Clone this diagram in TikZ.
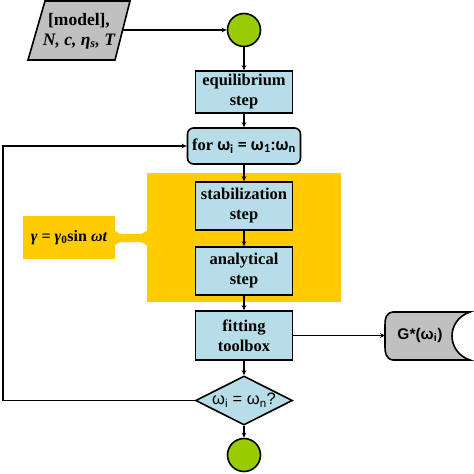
\documentclass[tikz,border=0pt]{standalone}
\usepackage{fontspec}
\setmainfont{Liberation Serif}
\newfontfamily\arialf{Liberation Sans}
\newfontfamily\calf{Carlito}
\usetikzlibrary{shapes.geometric,arrows.meta}
\definecolor{boxblue}{HTML}{B7DEE8}
\definecolor{flowgreen}{HTML}{99CC00}
\definecolor{flowyellow}{HTML}{FFCC00}
\definecolor{flowgrey}{HTML}{C0C0C0}
\tikzset{
  procbox/.style={draw=black, line width=1.6pt, fill=boxblue, minimum width=97pt, minimum height=48pt, inner sep=0pt, align=center, font=\fontsize{16.5}{20}\selectfont\bfseries},
  termcirc/.style={circle, draw=black, line width=1.6pt, fill=flowgreen, minimum size=33pt, inner sep=0pt},
  flowarrow/.style={line width=1.2pt, -{Stealth[length=5pt,width=4.5pt]}},
}
\begin{document}
\begin{tikzpicture}[x=1pt,y=-1pt]
\useasboundingbox (0,0) rectangle (474,474);
% yellow region
\fill[flowyellow] (147,173) rectangle (341,302);
% gamma callout
\node[fill=flowyellow, minimum width=92pt, minimum height=43pt, inner sep=0pt, font=\fontsize{16}{19}\selectfont\bfseries] (gam) at (69,237.5) {\itshape γ\upshape{} = \itshape γ\textsubscript{\upshape 0}\upshape sin \itshape ωt};
\fill[flowyellow, rounded corners=3pt] (113,229) -- (119,234) -- (142,234) -- (149,229) -- (149,247) -- (142,242) -- (119,242) -- (113,247) -- cycle;
% input parallelogram
\draw[line width=1.6pt, fill=flowgrey] (45,1) -- (130,1) -- (115,60) -- (28,60) -- cycle;
\node[align=center, font=\fontsize{17.5}{20}\selectfont\bfseries] (para) at (79,31) {[model],\\\itshape N, c, η\textsubscript{s}, T};
\coordinate (paraR) at (122.5,30);
% start circle
\node[termcirc] (c1) at (244,30) {};
% boxes
\node[procbox, minimum height=42pt] (equil) at (244,92) {equilibrium\\step};
\node[procbox, rounded corners=6pt, minimum width=113pt, minimum height=36pt] (forb) at (244,146) {for {\calf\fontsize{18}{20}\selectfont ω\textsubscript{i}~= ω\textsubscript{1}:ω\textsubscript{n}}};
\node[procbox] (stab) at (244,206) {stabilization\\step};
\node[procbox] (anal) at (244,271) {analytical\\step};
\node[procbox, minimum height=49pt] (fit) at (244,335.5) {fitting\\toolbox};
\node[diamond, aspect=2, draw=black, line width=1.6pt, fill=boxblue, minimum width=97pt, minimum height=49pt, inner sep=0pt, font=\fontsize{16.5}{19}\selectfont\arialf] (diam) at (244,400.5) {ω\textsubscript{i} = ω\textsubscript{n}?};
\node[termcirc] (c2) at (244,455) {};
% output stored data shape
\draw[line width=1.6pt, fill=flowgrey] (393,312) -- (470,312) .. controls (446,320) and (446,352) .. (470,360) -- (393,360) .. controls (386,359) and (385,353) .. (385,347) -- (385,325) .. controls (385,318) and (386,313) .. (393,312) -- cycle;
\node[font=\fontsize{15.5}{18}\selectfont\arialf\bfseries] (gout) at (420,335) {G*(ω\textsubscript{i})};
\coordinate (gleft) at (385,335.5);
% connectors
\draw[flowarrow] (paraR) -- (c1.west);
\draw[flowarrow] (c1.south) -- (equil.north);
\draw[flowarrow] (equil.south) -- (forb.north);
\draw[flowarrow] (forb.south) -- (stab.north);
\draw[flowarrow] (stab.south) -- (anal.north);
\draw[flowarrow] (anal.south) -- (fit.north);
\draw[flowarrow] (fit.south) -- (diam.north);
\draw[flowarrow] (diam.south) -- (c2.north);
\draw[flowarrow] (fit.east) -- (gleft);
\coordinate (loopB) at (3,400.5);
\draw[flowarrow, line width=1.5pt] (diam.west) -- (loopB) |- (forb.west);
\end{tikzpicture}
\end{document}
